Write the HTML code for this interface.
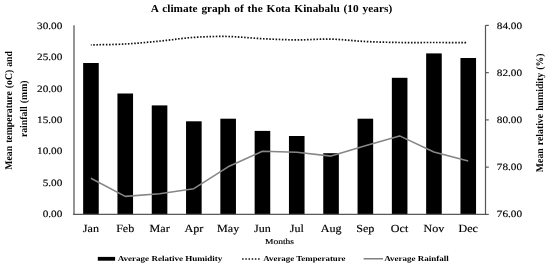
<!DOCTYPE html>
<html><head><meta charset="utf-8"><title>A climate graph of the Kota Kinabalu (10 years)</title>
<style>html,body{margin:0;padding:0;background:#fff;}svg{display:block;}text{font-family:"Liberation Serif",serif;fill:#000;text-rendering:geometricPrecision;}.r{stroke:#000;stroke-width:0.15px;}</style></head><body>
<svg width="550" height="267" viewBox="0 0 550 267">
<rect width="550" height="267" fill="#fff"/>
<text transform="translate(271.5 12.3) scale(1.06 1)" font-size="10.7" font-weight="bold" text-anchor="middle" word-spacing="1.0" fill="#000">A climate graph of the Kota Kinabalu (10 years)</text>
<rect x="83.15" y="63.0" width="15.6" height="151.0" fill="#000"/>
<rect x="117.45" y="93.5" width="15.6" height="120.5" fill="#000"/>
<rect x="151.75" y="105.4" width="15.6" height="108.6" fill="#000"/>
<rect x="186.05" y="121.3" width="15.6" height="92.7" fill="#000"/>
<rect x="220.35" y="118.7" width="15.6" height="95.3" fill="#000"/>
<rect x="254.65" y="130.9" width="15.6" height="83.1" fill="#000"/>
<rect x="288.95" y="136.0" width="15.6" height="78.0" fill="#000"/>
<rect x="323.25" y="153.2" width="15.6" height="60.8" fill="#000"/>
<rect x="357.55" y="118.7" width="15.6" height="95.3" fill="#000"/>
<rect x="391.85" y="77.8" width="15.6" height="136.2" fill="#000"/>
<rect x="426.15" y="53.4" width="15.6" height="160.6" fill="#000"/>
<rect x="460.45" y="58.0" width="15.6" height="156.0" fill="#000"/>
<path d="M74.0 25.3V215.0" stroke="#7a7a7a" stroke-width="1.6" fill="none"/>
<path d="M73.1 214.4H486" stroke="#5a5a5a" stroke-width="1.1" fill="none"/>
<path d="M485.5 25.3V214.9" stroke="#555" stroke-width="1.2" fill="none"/>
<path d="M485.5 25.40h3.3" stroke="#555" stroke-width="1.15"/>
<path d="M485.5 72.65h3.3" stroke="#555" stroke-width="1.15"/>
<path d="M485.5 119.90h3.3" stroke="#555" stroke-width="1.15"/>
<path d="M485.5 167.15h3.3" stroke="#555" stroke-width="1.15"/>
<path d="M485.5 214.40h3.3" stroke="#555" stroke-width="1.15"/>
<path d="M90.9 44.9C96.7 44.75 113.8 44.63 125.2 44.0C136.7 43.37 148.1 42.20 159.6 41.1C171.0 40.00 182.4 38.17 193.8 37.4C205.3 36.63 216.7 36.28 228.1 36.5C239.6 36.72 251.0 38.13 262.4 38.7C273.9 39.27 285.3 39.83 296.8 39.9C308.2 39.97 319.6 38.83 331.1 39.1C342.5 39.37 353.9 40.93 365.3 41.5C376.8 42.07 388.2 42.33 399.6 42.5C411.1 42.67 422.7 42.48 433.9 42.5C445.2 42.52 461.5 42.58 467.0 42.6" fill="none" stroke="#111" stroke-width="1.7" stroke-dasharray="1.55 1.6" stroke-dashoffset="0.75"/>
<polyline points="90.9,178.3 125.2,196.4 159.6,193.8 193.8,188.7 228.1,166.8 262.4,151.3 296.8,152.3 331.1,156.1 365.3,145.8 399.6,135.9 433.9,152.0 468.2,160.9" fill="none" stroke="#868686" stroke-width="1.6" stroke-linejoin="round"/>
<text transform="translate(62.3 28.6) scale(1.16 1)" font-size="9.7" text-anchor="end" class="r">30.00</text>
<text transform="translate(62.3 60.0) scale(1.16 1)" font-size="9.7" text-anchor="end" class="r">25.00</text>
<text transform="translate(62.3 91.5) scale(1.16 1)" font-size="9.7" text-anchor="end" class="r">20.00</text>
<text transform="translate(62.3 122.9) scale(1.16 1)" font-size="9.7" text-anchor="end" class="r">15.00</text>
<text transform="translate(62.3 154.4) scale(1.16 1)" font-size="9.7" text-anchor="end" class="r">10.00</text>
<text transform="translate(62.3 185.9) scale(1.16 1)" font-size="9.7" text-anchor="end" class="r">5.00</text>
<text transform="translate(62.3 217.3) scale(1.16 1)" font-size="9.7" text-anchor="end" class="r">0.00</text>
<text transform="translate(496.8 28.6) scale(1.16 1)" font-size="9.7" class="r">84.00</text>
<text transform="translate(496.8 75.8) scale(1.16 1)" font-size="9.7" class="r">82.00</text>
<text transform="translate(496.8 122.9) scale(1.16 1)" font-size="9.7" class="r">80.00</text>
<text transform="translate(496.8 170.1) scale(1.16 1)" font-size="9.7" class="r">78.00</text>
<text transform="translate(496.8 217.3) scale(1.16 1)" font-size="9.7" class="r">76.00</text>
<text transform="translate(90.9 231.7) scale(1.1 1)" font-size="11" text-anchor="middle" class="r">Jan</text>
<text transform="translate(125.2 231.7) scale(1.1 1)" font-size="11" text-anchor="middle" class="r">Feb</text>
<text transform="translate(159.6 231.7) scale(1.1 1)" font-size="11" text-anchor="middle" class="r">Mar</text>
<text transform="translate(193.8 231.7) scale(1.1 1)" font-size="11" text-anchor="middle" class="r">Apr</text>
<text transform="translate(228.1 231.7) scale(1.1 1)" font-size="11" text-anchor="middle" class="r">May</text>
<text transform="translate(262.4 231.7) scale(1.1 1)" font-size="11" text-anchor="middle" class="r">Jun</text>
<text transform="translate(296.8 231.7) scale(1.1 1)" font-size="11" text-anchor="middle" class="r">Jul</text>
<text transform="translate(331.1 231.7) scale(1.1 1)" font-size="11" text-anchor="middle" class="r">Aug</text>
<text transform="translate(365.3 231.7) scale(1.1 1)" font-size="11" text-anchor="middle" class="r">Sep</text>
<text transform="translate(399.6 231.7) scale(1.1 1)" font-size="11" text-anchor="middle" class="r">Oct</text>
<text transform="translate(433.9 231.7) scale(1.1 1)" font-size="11" text-anchor="middle" class="r">Nov</text>
<text transform="translate(468.2 231.7) scale(1.1 1)" font-size="11" text-anchor="middle" class="r">Dec</text>
<text transform="translate(279.55 243.9) scale(1.23 1)" font-size="7.7" text-anchor="middle" class="r">Months</text>
<text transform="translate(11.5 110.4) rotate(-90) scale(0.953 1)" word-spacing="0.7" font-size="10.2" font-weight="bold" text-anchor="middle" fill="#000">Mean temperature (oC) and</text>
<text transform="translate(26.8 108.8) rotate(-90) scale(0.955 1)" word-spacing="0.7" font-size="10.2" font-weight="bold" text-anchor="middle" fill="#000">rainfall (mm)</text>
<text transform="translate(543.0 112.8) rotate(-90) scale(0.958 1)" word-spacing="0.7" font-size="10.2" font-weight="bold" text-anchor="middle" fill="#000">Mean relative humidity (%)</text>
<rect x="97.8" y="256.9" width="17.3" height="3.8" fill="#000"/>
<text transform="translate(117.7 261.2) scale(1.204 1)" font-size="7.5" font-weight="bold" word-spacing="0" fill="#000">Average Relative Humidity</text>
<path d="M242.1 259.1H260.5" stroke="#111" stroke-width="1.5" stroke-dasharray="1.5 1.7"/>
<text transform="translate(263.3 261.2) scale(1.183 1)" font-size="7.5" font-weight="bold" word-spacing="0" fill="#000">Average Temperature</text>
<path d="M363.6 258.8H383" stroke="#6c6c6c" stroke-width="1.3"/>
<text transform="translate(384.2 261.2) scale(1.199 1)" font-size="7.5" font-weight="bold" word-spacing="0" fill="#000">Average Rainfall</text>
</svg></body></html>
